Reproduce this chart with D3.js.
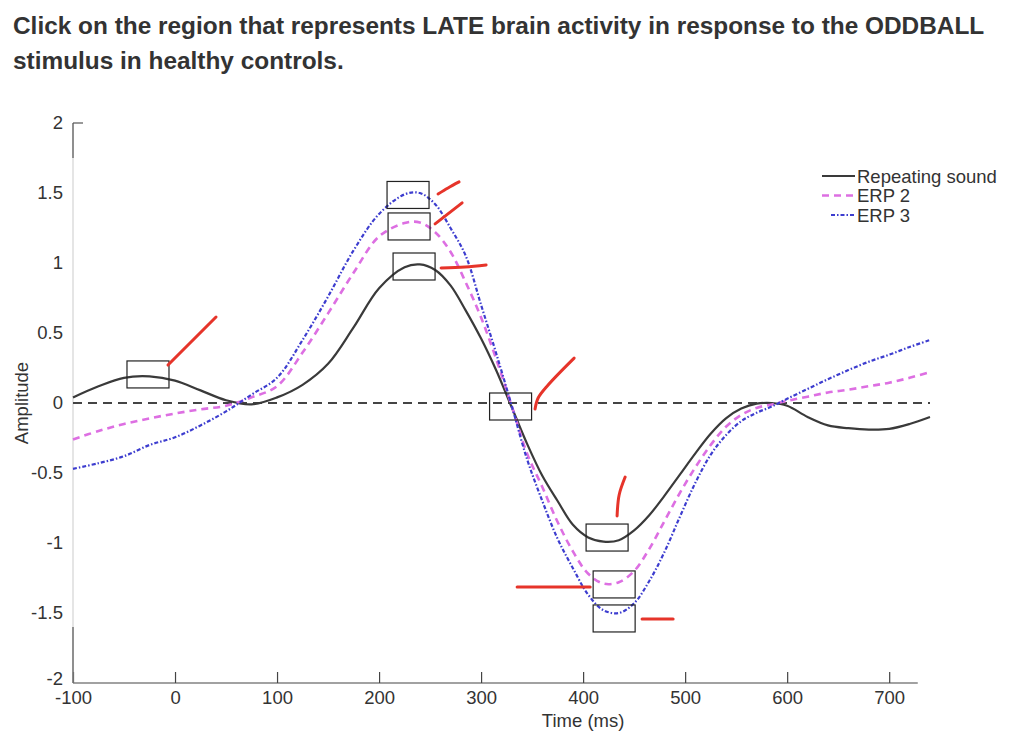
<!DOCTYPE html>
<html>
<head>
<meta charset="utf-8">
<script src="https://cdn.jsdelivr.net/npm/d3@7"></script>
<style>
  body { margin: 0; background: #fff; }
  text { font-family: "Liberation Sans", Arial, Helvetica, sans-serif; }
</style>
</head>
<body>
<div id="container"></div>
<script>
/* CONSTANTS AND GLOBALS */
const width = 1024;
const height = 753;
const margin = {top: 123, bottom: 70, left: 73, right: 94};
const fontSize = 18.5;

/* DATA */
const time = [-100, -75, -50, -25, 0, 25, 50, 75, 100, 125, 150, 175, 200, 225, 240,
  255, 270, 285, 300, 315, 330, 345, 360, 375, 390, 405, 420, 435, 450, 465, 480, 495,
  510, 525, 540, 555, 570, 585, 600, 620, 640, 660, 680, 700, 720, 740];

const repeating = [0.04, 0.12, 0.18, 0.19, 0.16, 0.09, 0.02, -0.01, 0.04, 0.13, 0.28, 0.54, 0.82, 0.97, 0.99,
  0.95, 0.84, 0.66, 0.46, 0.23, -0.03, -0.29, -0.52, -0.70, -0.87, -0.96, -0.99, -0.98, -0.91, -0.80, -0.66, -0.51,
  -0.36, -0.22, -0.11, -0.04, -0.005, 0.0, -0.02, -0.10, -0.16, -0.18, -0.19, -0.185, -0.15, -0.10];

const erp2 = [-0.26, -0.20, -0.15, -0.11, -0.075, -0.045, -0.02, 0.04, 0.12, 0.36, 0.64, 0.93, 1.19, 1.285, 1.29,
  1.22, 1.08, 0.86, 0.61, 0.31, -0.02, -0.36, -0.60, -0.85, -1.06, -1.22, -1.29, -1.28, -1.20, -1.04, -0.84, -0.64,
  -0.46, -0.30, -0.17, -0.085, -0.035, -0.01, 0.015, 0.045, 0.075, 0.095, 0.12, 0.145, 0.18, 0.22];

const erp3 = [-0.47, -0.43, -0.38, -0.30, -0.245, -0.16, -0.06, 0.06, 0.18, 0.45, 0.76, 1.09, 1.35, 1.49, 1.50,
  1.42, 1.25, 1.05, 0.70, 0.35, -0.02, -0.40, -0.70, -0.97, -1.18, -1.37, -1.48, -1.50, -1.43, -1.27, -1.06, -0.81,
  -0.57, -0.37, -0.23, -0.13, -0.07, -0.025, 0.03, 0.10, 0.17, 0.235, 0.295, 0.345, 0.40, 0.45];

const seriesNames = ["Repeating sound", "ERP 2", "ERP 3"];
const xTicks = [-100, 0, 100, 200, 300, 400, 500, 600, 700];
const yTicks = [-2, -1.5, -1, -0.5, 0, 0.5, 1, 1.5, 2];

// answer boxes drawn on the picture: centre [time, amplitude]
const boxCentres = [[-26.5, 0.204], [228.4, 1.486], [229.4, 1.261], [234.3, 0.975],
  [328.9, -0.025], [423.5, -0.961], [430.4, -1.296], [430.4, -1.539]];

// red hand-drawn strokes: [time, amplitude] points
const redMarks = [
  [[-6.9, 0.271], [40.2, 0.614]],
  [[257.8, 1.493], [267.6, 1.536], [278.4, 1.579]],
  [[254.9, 1.279], [281.4, 1.429]],
  [[260.8, 0.964], [284.3, 0.971], [304.9, 0.986]],
  [[352.9, -0.043], [355.9, 0.036], [365.7, 0.129], [391.2, 0.321]],
  [[433.3, -0.807], [435.3, -0.657], [441.2, -0.529]],
  [[335.3, -1.314], [406.9, -1.314]],
  [[457.8, -1.543], [488.2, -1.543]]
];

/* SCALES */
const xScale = d3.scaleLinear()
  .domain([-100, 740])
  .range([margin.left, width - margin.right]);

const yScale = d3.scaleLinear()
  .domain([-2, 2])
  .range([height - margin.bottom, margin.top]);

/* HTML ELEMENTS */
const svg = d3.select("#container")
  .append("svg")
  .attr("width", width)
  .attr("height", height);

// question title
svg.append("text")
  .attr("x", 13).attr("y", 34)
  .attr("font-size", 24.4).attr("font-weight", "bold").attr("fill", "#333")
  .text("Click on the region that represents LATE brain activity in response to the ODDBALL");
svg.append("text")
  .attr("x", 13).attr("y", 69)
  .attr("font-size", 24.4).attr("font-weight", "bold").attr("fill", "#333")
  .text("stimulus in healthy controls.");

// X axis
const xAxis = d3.axisBottom(xScale)
  .tickValues(xTicks)
  .tickSizeInner(-11)
  .tickSizeOuter(0)
  .tickPadding(8)
  .tickFormat(d => String(d));
const gx = svg.append("g")
  .attr("transform", `translate(0,${yScale(-2)})`)
  .call(xAxis);
gx.select(".domain").remove();
gx.append("line")
  .attr("x1", xScale(-100)).attr("x2", xScale(728))
  .attr("stroke", "#444").attr("stroke-width", 1.2);
gx.selectAll(".tick line").attr("stroke", "#444").attr("stroke-width", 1.2);
gx.selectAll(".tick text").attr("font-size", fontSize).attr("fill", "#333")
  .attr("font-family", "Liberation Sans, Arial, sans-serif");

// Y axis
const yAxis = d3.axisLeft(yScale)
  .tickValues(yTicks)
  .tickSize(0)
  .tickPadding(10)
  .tickFormat(d => String(d));
const gy = svg.append("g")
  .attr("transform", `translate(${xScale(-100)},0)`)
  .call(yAxis);
gy.select(".domain").remove();
gy.selectAll(".tick text").attr("font-size", fontSize).attr("fill", "#333")
  .attr("font-family", "Liberation Sans, Arial, sans-serif");
// lowest label sits a little higher, as in the source
gy.selectAll(".tick").filter(d => d === -2).select("text").attr("dy", "0.08em");
// faint middle of the axis line, darker ends
gy.append("line")
  .attr("y1", yScale(2)).attr("y2", yScale(-2))
  .attr("stroke", "#d4d4d4").attr("stroke-width", 1.2);
gy.append("line")
  .attr("y1", yScale(2)).attr("y2", yScale(1.75))
  .attr("stroke", "#555").attr("stroke-width", 1.2);
gy.append("line")
  .attr("y1", yScale(-1.6)).attr("y2", yScale(-2))
  .attr("stroke", "#555").attr("stroke-width", 1.2);
gy.append("line")
  .attr("x1", 0).attr("x2", 10)
  .attr("y1", yScale(2)).attr("y2", yScale(2))
  .attr("stroke", "#555").attr("stroke-width", 1.2);

// axis labels
svg.append("text")
  .attr("text-anchor", "middle")
  .attr("x", xScale(400))
  .attr("y", yScale(-2) + 44)
  .attr("font-size", fontSize).attr("fill", "#333")
  .text("Time (ms)");

svg.append("text")
  .attr("text-anchor", "middle")
  .attr("transform", `translate(28,${yScale(0)}) rotate(-90)`)
  .attr("font-size", fontSize).attr("fill", "#333")
  .text("Amplitude");

// zero baseline
svg.append("line")
  .attr("x1", xScale(-100)).attr("x2", xScale(740))
  .attr("y1", yScale(0)).attr("y2", yScale(0))
  .attr("stroke", "#444").attr("stroke-width", 2)
  .attr("stroke-dasharray", "9,6");

// lines
const styles = [
  {color: "#3a3a3a", width: 2.2, dash: null},
  {color: "#dd6fe2", width: 2.6, dash: "7,5"},
  {color: "#3d3dcf", width: 2.2, dash: "4,2,1.5,2"}
];
const seriesValues = [repeating, erp2, erp3];

const line = d3.line()
  .x(d => xScale(d[0]))
  .y(d => yScale(d[1]))
  .curve(d3.curveCatmullRom.alpha(0.5));

seriesValues.forEach((vals, i) => {
  svg.append("path")
    .datum(time.map((t, j) => [t, vals[j]]))
    .attr("fill", "none")
    .attr("stroke", styles[i].color)
    .attr("stroke-width", styles[i].width)
    .attr("stroke-dasharray", styles[i].dash)
    .attr("d", line);
});

// legend
const legend = svg.append("g").attr("transform", "translate(822,176)");
seriesNames.forEach((name, i) => {
  const row = legend.append("g").attr("transform", `translate(0,${i * 19.5})`);
  row.append("line")
    .attr("x1", i === 2 ? 9 : 0).attr("x2", 33)
    .attr("stroke", styles[i].color)
    .attr("stroke-width", styles[i].width)
    .attr("stroke-dasharray", styles[i].dash);
  row.append("text")
    .attr("x", 35).attr("y", 6.5)
    .attr("font-size", fontSize).attr("fill", "#333")
    .text(name);
});

// answer boxes
svg.selectAll("rect.box")
  .data(boxCentres)
  .join("rect")
  .attr("class", "box")
  .attr("x", d => xScale(d[0]) - 21)
  .attr("y", d => yScale(d[1]) - 13.5)
  .attr("width", 42)
  .attr("height", 27)
  .attr("fill", "none")
  .attr("stroke", "#222")
  .attr("stroke-width", 1.2);

// red strokes
const redLine = d3.line()
  .x(d => xScale(d[0]))
  .y(d => yScale(d[1]))
  .curve(d3.curveCatmullRom.alpha(0.5));

svg.selectAll("path.red")
  .data(redMarks)
  .join("path")
  .attr("class", "red")
  .attr("d", redLine)
  .attr("fill", "none")
  .attr("stroke", "#e6342a")
  .attr("stroke-width", 3)
  .attr("stroke-linecap", "round");
</script>
</body>
</html>
